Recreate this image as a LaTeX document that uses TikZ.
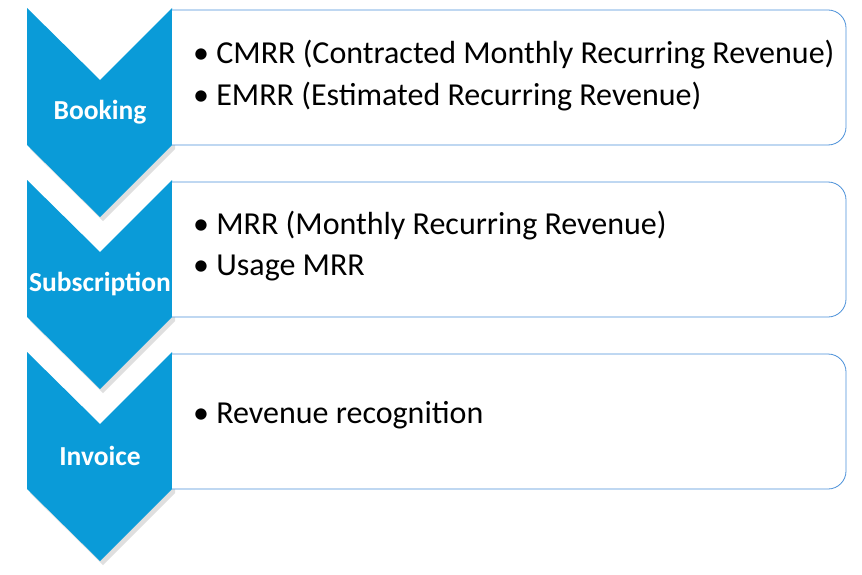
\documentclass[tikz,border=0pt]{standalone}
\usepackage{fontspec}
\setmainfont{Carlito}
\definecolor{chev}{HTML}{0A9BD8}
\definecolor{bord}{HTML}{4A90D9}
\begin{document}
\begin{tikzpicture}[x=1pt,y=-1pt,
  chevlbl/.style={text=white,font=\fontsize{27.5}{32}\selectfont\bfseries},
  item/.style={anchor=west,font=\fontsize{32}{38}\selectfont,inner sep=0pt},
  listbox/.style={draw=bord,line width=0.8pt,fill=white}]
\useasboundingbox (0,0) rectangle (862,575);
\foreach \t/\lab/\nm in {8/Booking/a,180/Subscription/b,352/Invoice/c}{
  \fill[black!25,xshift=3pt,yshift=-4pt,opacity=0.5] (27,\t) -- (100,\t+72) -- (172,\t) -- (172,\t+137) -- (100,\t+209) -- (27,\t+137) -- cycle;
  \fill[chev] (27,\t) -- (100,\t+72) -- (172,\t) -- (172,\t+137) -- (100,\t+209) -- (27,\t+137) -- cycle;
  \draw[listbox,rounded corners=18pt] (172,\t+2) -- (846,\t+2) -- (846,\t+137) -- (172,\t+137);
  \node[chevlbl] (\nm) at (100,\t+104) {\lab};
}
\node[item] (a1) at (193,55) {• CMRR (Contracted Monthly Recurring Revenue)};
\node[item] (a2) at (193,97) {• EMRR (Estimated Recurring Revenue)};
\node[item] (b1) at (193,226) {• MRR (Monthly Recurring Revenue)};
\node[item] (b2) at (193,268) {• Usage MRR};
\node[item] (c1) at (193,415) {• Revenue recognition};
\end{tikzpicture}
\end{document}
